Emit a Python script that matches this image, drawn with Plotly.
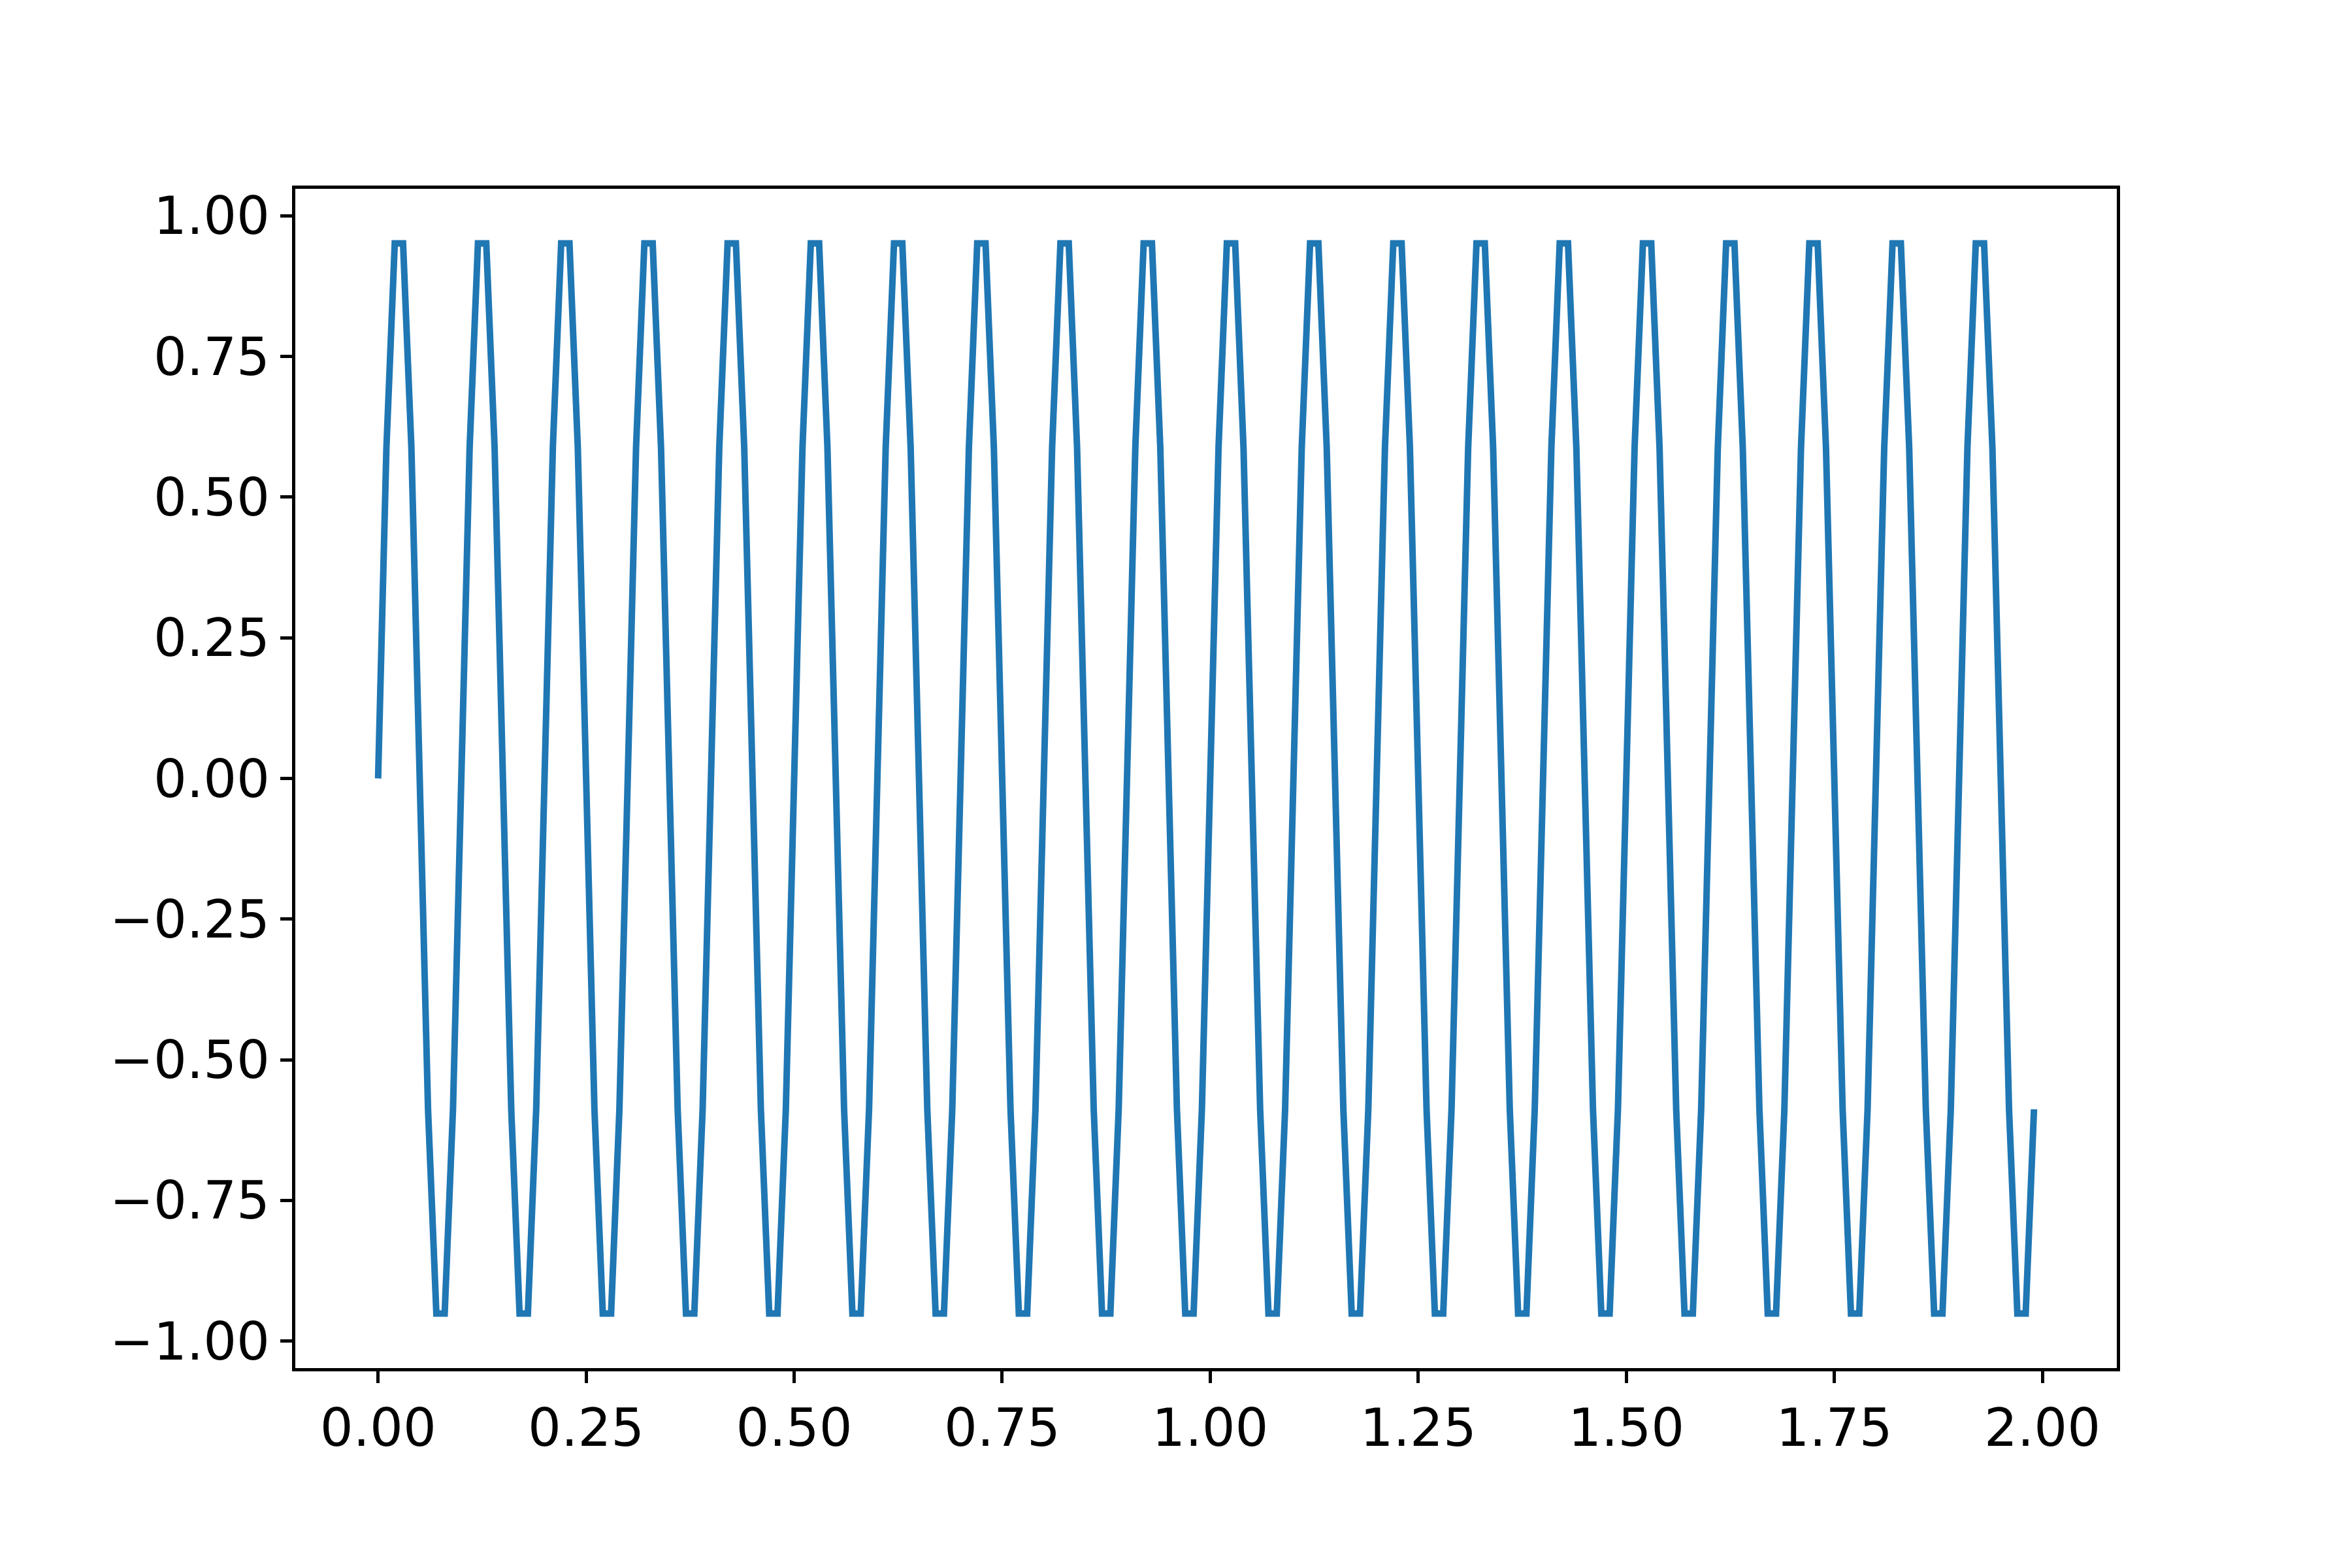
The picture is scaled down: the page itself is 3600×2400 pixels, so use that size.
import plotly.graph_objects as go

# time samples 0.00 .. 1.99 (step 0.01)
t = [round(i * 0.01, 2) for i in range(200)]

# one period (10 samples), the wave repeats identically 20 times
period_values = [0.0, 0.588, 0.951, 0.951, 0.588, 0.0, -0.588, -0.951, -0.951, -0.588]
y = period_values * 20

x_ticks = [0.0, 0.25, 0.5, 0.75, 1.0, 1.25, 1.5, 1.75, 2.0]
y_ticks = [-1.0, -0.75, -0.5, -0.25, 0.0, 0.25, 0.5, 0.75, 1.0]

fig = go.Figure(go.Scatter(x=t, y=y, mode="lines",
                           line=dict(color="#1f77b4", width=10)))

axis_common = dict(showline=True, linecolor="black", linewidth=5, mirror=True,
                   showgrid=False, zeroline=False, ticks="outside", ticklen=18,
                   tickwidth=5, tickcolor="black",
                   tickfont=dict(family="DejaVu Sans", size=80, color="black"))

fig.update_xaxes(range=[-0.0995, 2.0895], tickvals=x_ticks,
                 ticktext=[f"{v:.2f}" for v in x_ticks], **axis_common)
fig.update_yaxes(range=[-1.048, 1.048], tickvals=y_ticks,
                 ticktext=[f"{v:.2f}".replace("-", "\u2212") for v in y_ticks], **axis_common)

fig.update_layout(width=3600, height=2400, plot_bgcolor="white", paper_bgcolor="white",
                  margin=dict(l=444, r=368, t=281, b=314), showlegend=False)

fig.write_html("out.html")
